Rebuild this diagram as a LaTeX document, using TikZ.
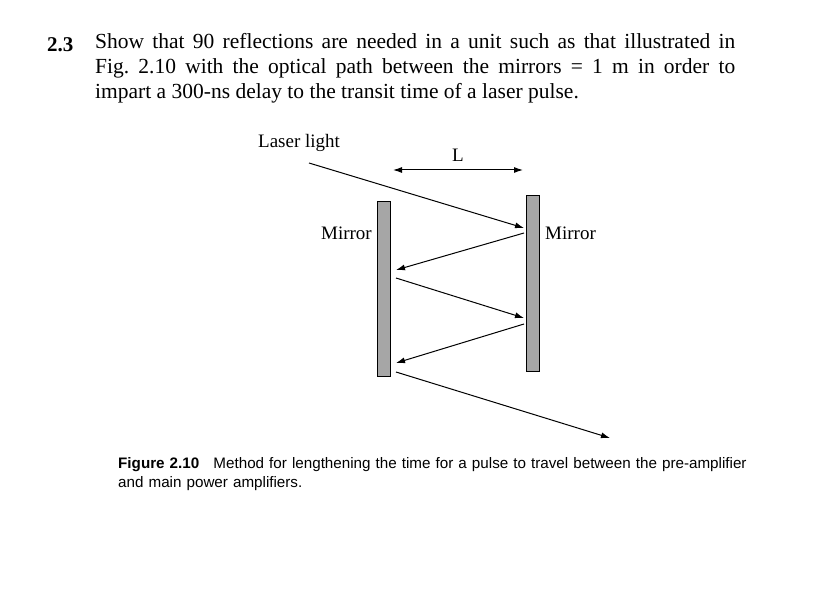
\documentclass[tikz,border=0pt]{standalone}
\usepackage{fontspec}
\setmainfont{Liberation Serif}
\setsansfont{Liberation Sans}
\usetikzlibrary{arrows.meta}
\begin{document}
\begin{tikzpicture}[x=1pt,y=-1pt,
  mirror/.style={draw=black,fill=gray!70,line width=0.8pt},
  ray/.style={-{Latex[length=9pt,width=6pt]},line width=1pt},
  lbl/.style={font=\fontsize{19}{22}\selectfont,inner sep=0pt}]
\useasboundingbox[fill=white] (0,0) rectangle (835,593);
\node[anchor=base west,inner sep=0pt,font=\fontsize{21}{25}\selectfont\bfseries] (num) at (47,52) {2.3};
\node[anchor=north west,inner sep=0pt,text width=640pt,align=justify,font=\fontsize{21.5}{25}\selectfont] (prob) at (95,33)
 {Show that 90 reflections are needed in a unit such as that illustrated in\linebreak Fig.~2.10 with the optical path between the mirrors = 1~m in order to\linebreak impart a 300-ns delay to the transit time of a laser pulse.};
\node[mirror,minimum width=13pt,minimum height=175pt,inner sep=0pt] (ml) at (383.5,288.5) {};
\node[mirror,minimum width=13pt,minimum height=176pt,inner sep=0pt] (mr) at (532.5,283) {};
\node[lbl,anchor=base west] (laser) at (258,148) {Laser light};
\node[lbl] (L) at (458,155) {L};
\node[lbl,anchor=base east] (tl) at (372,240) {Mirror};
\node[lbl,anchor=base west] (tr) at (545,240) {Mirror};
\coordinate (a0) at (309,163); \coordinate (a1) at (524,228);
\coordinate (b0) at (524,233); \coordinate (b1) at (396,270);
\coordinate (c0) at (396,278); \coordinate (c1) at (524,318);
\coordinate (d0) at (524,324); \coordinate (d1) at (396,363);
\coordinate (e0) at (396,372); \coordinate (e1) at (610,438);
\coordinate (la) at (393,170); \coordinate (lb) at (523,170);
\draw[ray] (a0) -- (a1);
\draw[ray] (b0) -- (b1);
\draw[ray] (c0) -- (c1);
\draw[ray] (d0) -- (d1);
\draw[ray] (e0) -- (e1);
\draw[{Latex[length=9pt,width=6pt]}-{Latex[length=9pt,width=6pt]},line width=1pt] (la) -- (lb);
\node[anchor=base west,inner sep=0pt,text width=700pt,align=left,font=\sffamily\fontsize{15.2}{19}\selectfont] (cap) at (118,468)
 {\textbf{Figure 2.10}\hspace{0.6em} Method for lengthening the time for a pulse to travel between the pre-amplifier\\and main power amplifiers.};
\end{tikzpicture}
\end{document}
